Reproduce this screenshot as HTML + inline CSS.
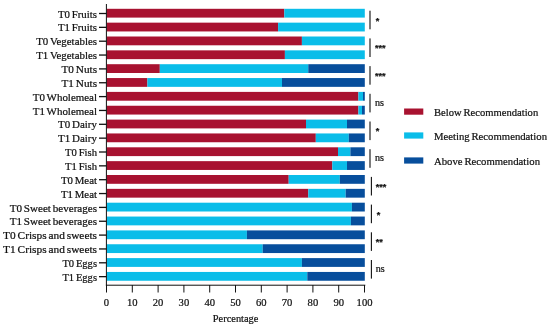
<!DOCTYPE html><html><head><meta charset="utf-8"><title>Chart</title><style>html,body{margin:0;padding:0;background:#fff}svg{display:block}text{font-family:"Liberation Serif",serif;fill:#111;stroke:#111;stroke-width:0.22px;word-spacing:-0.9px}</style></head><body>
<svg width="550" height="329" viewBox="0 0 550 329">
<rect width="550" height="329" fill="#fff"/>
<rect x="106.9" y="8.80" width="177.4" height="8.8" fill="#a81230"/>
<rect x="284.3" y="8.80" width="80.5" height="8.8" fill="#0abde9"/>
<rect x="99" y="12.85" width="7.5" height="1.3" fill="#111"/>
<text x="57.9" y="17.60" font-size="11" textLength="39.1" lengthAdjust="spacingAndGlyphs">T0 Fruits</text>
<rect x="106.9" y="22.65" width="171.2" height="8.8" fill="#a81230"/>
<rect x="278.1" y="22.65" width="86.7" height="8.8" fill="#0abde9"/>
<rect x="99" y="26.70" width="7.5" height="1.3" fill="#111"/>
<text x="57.9" y="31.45" font-size="11" textLength="39.1" lengthAdjust="spacingAndGlyphs">T1 Fruits</text>
<rect x="106.9" y="36.50" width="195.0" height="8.8" fill="#a81230"/>
<rect x="301.9" y="36.50" width="62.9" height="8.8" fill="#0abde9"/>
<rect x="99" y="40.55" width="7.5" height="1.3" fill="#111"/>
<text x="36.2" y="45.30" font-size="11" textLength="60.8" lengthAdjust="spacingAndGlyphs">T0 Vegetables</text>
<rect x="106.9" y="50.35" width="178.0" height="8.8" fill="#a81230"/>
<rect x="284.9" y="50.35" width="79.9" height="8.8" fill="#0abde9"/>
<rect x="99" y="54.40" width="7.5" height="1.3" fill="#111"/>
<text x="36.2" y="59.15" font-size="11" textLength="60.8" lengthAdjust="spacingAndGlyphs">T1 Vegetables</text>
<rect x="106.9" y="64.20" width="52.9" height="8.8" fill="#a81230"/>
<rect x="159.8" y="64.20" width="148.6" height="8.8" fill="#0abde9"/>
<rect x="308.3" y="64.20" width="56.5" height="8.8" fill="#074e9c"/>
<rect x="99" y="68.25" width="7.5" height="1.3" fill="#111"/>
<text x="61.5" y="73.00" font-size="11" textLength="35.5" lengthAdjust="spacingAndGlyphs">T0 Nuts</text>
<rect x="106.9" y="78.05" width="40.5" height="8.8" fill="#a81230"/>
<rect x="147.4" y="78.05" width="134.6" height="8.8" fill="#0abde9"/>
<rect x="282.0" y="78.05" width="82.8" height="8.8" fill="#074e9c"/>
<rect x="99" y="82.10" width="7.5" height="1.3" fill="#111"/>
<text x="61.5" y="86.85" font-size="11" textLength="35.5" lengthAdjust="spacingAndGlyphs">T1 Nuts</text>
<rect x="106.9" y="91.90" width="251.5" height="8.8" fill="#a81230"/>
<rect x="358.4" y="91.90" width="4.6" height="8.8" fill="#0abde9"/>
<rect x="363.0" y="91.90" width="1.8" height="8.8" fill="#074e9c"/>
<rect x="99" y="95.95" width="7.5" height="1.3" fill="#111"/>
<text x="32.8" y="100.70" font-size="11" textLength="64.2" lengthAdjust="spacingAndGlyphs">T0 Wholemeal</text>
<rect x="106.9" y="105.75" width="251.5" height="8.8" fill="#a81230"/>
<rect x="358.4" y="105.75" width="3.6" height="8.8" fill="#0abde9"/>
<rect x="362.0" y="105.75" width="2.8" height="8.8" fill="#074e9c"/>
<rect x="99" y="109.80" width="7.5" height="1.3" fill="#111"/>
<text x="32.8" y="114.55" font-size="11" textLength="64.2" lengthAdjust="spacingAndGlyphs">T1 Wholemeal</text>
<rect x="106.9" y="119.60" width="199.1" height="8.8" fill="#a81230"/>
<rect x="306.0" y="119.60" width="41.0" height="8.8" fill="#0abde9"/>
<rect x="347.0" y="119.60" width="17.8" height="8.8" fill="#074e9c"/>
<rect x="99" y="123.65" width="7.5" height="1.3" fill="#111"/>
<text x="58.1" y="128.40" font-size="11" textLength="38.9" lengthAdjust="spacingAndGlyphs">T0 Dairy</text>
<rect x="106.9" y="133.45" width="208.9" height="8.8" fill="#a81230"/>
<rect x="315.8" y="133.45" width="33.0" height="8.8" fill="#0abde9"/>
<rect x="348.8" y="133.45" width="16.0" height="8.8" fill="#074e9c"/>
<rect x="99" y="137.50" width="7.5" height="1.3" fill="#111"/>
<text x="58.1" y="142.25" font-size="11" textLength="38.9" lengthAdjust="spacingAndGlyphs">T1 Dairy</text>
<rect x="106.9" y="147.30" width="231.1" height="8.8" fill="#a81230"/>
<rect x="338.0" y="147.30" width="12.4" height="8.8" fill="#0abde9"/>
<rect x="350.4" y="147.30" width="14.4" height="8.8" fill="#074e9c"/>
<rect x="99" y="151.35" width="7.5" height="1.3" fill="#111"/>
<text x="65.0" y="156.10" font-size="11" textLength="32.0" lengthAdjust="spacingAndGlyphs">T0 Fish</text>
<rect x="106.9" y="161.15" width="225.4" height="8.8" fill="#a81230"/>
<rect x="332.3" y="161.15" width="14.7" height="8.8" fill="#0abde9"/>
<rect x="347.0" y="161.15" width="17.8" height="8.8" fill="#074e9c"/>
<rect x="99" y="165.20" width="7.5" height="1.3" fill="#111"/>
<text x="65.0" y="169.95" font-size="11" textLength="32.0" lengthAdjust="spacingAndGlyphs">T1 Fish</text>
<rect x="106.9" y="175.00" width="181.8" height="8.8" fill="#a81230"/>
<rect x="288.7" y="175.00" width="51.1" height="8.8" fill="#0abde9"/>
<rect x="339.8" y="175.00" width="25.0" height="8.8" fill="#074e9c"/>
<rect x="99" y="179.05" width="7.5" height="1.3" fill="#111"/>
<text x="60.9" y="183.80" font-size="11" textLength="36.1" lengthAdjust="spacingAndGlyphs">T0 Meat</text>
<rect x="106.9" y="188.85" width="201.4" height="8.8" fill="#a81230"/>
<rect x="308.3" y="188.85" width="37.4" height="8.8" fill="#0abde9"/>
<rect x="345.7" y="188.85" width="19.1" height="8.8" fill="#074e9c"/>
<rect x="99" y="192.90" width="7.5" height="1.3" fill="#111"/>
<text x="60.9" y="197.65" font-size="11" textLength="36.1" lengthAdjust="spacingAndGlyphs">T1 Meat</text>
<rect x="106.9" y="202.70" width="245.0" height="8.8" fill="#0abde9"/>
<rect x="351.9" y="202.70" width="12.9" height="8.8" fill="#074e9c"/>
<rect x="99" y="206.75" width="7.5" height="1.3" fill="#111"/>
<text x="9.7" y="211.50" font-size="11" textLength="87.3" lengthAdjust="spacingAndGlyphs">T0 Sweet beverages</text>
<rect x="106.9" y="216.55" width="244.0" height="8.8" fill="#0abde9"/>
<rect x="350.9" y="216.55" width="13.9" height="8.8" fill="#074e9c"/>
<rect x="99" y="220.60" width="7.5" height="1.3" fill="#111"/>
<text x="9.7" y="225.35" font-size="11" textLength="87.3" lengthAdjust="spacingAndGlyphs">T1 Sweet beverages</text>
<rect x="106.9" y="230.40" width="140.0" height="8.8" fill="#0abde9"/>
<rect x="246.9" y="230.40" width="117.9" height="8.8" fill="#074e9c"/>
<rect x="99" y="234.45" width="7.5" height="1.3" fill="#111"/>
<text x="3.1" y="239.20" font-size="11" textLength="93.9" lengthAdjust="spacingAndGlyphs">T0 Crisps and sweets</text>
<rect x="106.9" y="244.25" width="155.8" height="8.8" fill="#0abde9"/>
<rect x="262.7" y="244.25" width="102.1" height="8.8" fill="#074e9c"/>
<rect x="99" y="248.30" width="7.5" height="1.3" fill="#111"/>
<text x="3.1" y="253.05" font-size="11" textLength="93.9" lengthAdjust="spacingAndGlyphs">T1 Crisps and sweets</text>
<rect x="106.9" y="258.10" width="195.0" height="8.8" fill="#0abde9"/>
<rect x="301.9" y="258.10" width="62.9" height="8.8" fill="#074e9c"/>
<rect x="99" y="262.15" width="7.5" height="1.3" fill="#111"/>
<text x="62.4" y="266.90" font-size="11" textLength="34.6" lengthAdjust="spacingAndGlyphs">T0 Eggs</text>
<rect x="106.9" y="271.95" width="200.4" height="8.8" fill="#0abde9"/>
<rect x="307.3" y="271.95" width="57.5" height="8.8" fill="#074e9c"/>
<rect x="99" y="276.00" width="7.5" height="1.3" fill="#111"/>
<text x="62.4" y="280.75" font-size="11" textLength="34.6" lengthAdjust="spacingAndGlyphs">T1 Eggs</text>
<rect x="105.9" y="4" width="1" height="281.7" fill="#111"/>
<rect x="105.9" y="284.7" width="259.4" height="1" fill="#111"/>
<rect x="106.0" y="285" width="1" height="7.5" fill="#111"/>
<text x="103.8" y="306.3" font-size="10.8" textLength="5.3" lengthAdjust="spacingAndGlyphs">0</text>
<rect x="131.8" y="285" width="1" height="7.5" fill="#111"/>
<text x="127.0" y="306.3" font-size="10.8" textLength="10.6" lengthAdjust="spacingAndGlyphs">10</text>
<rect x="157.6" y="285" width="1" height="7.5" fill="#111"/>
<text x="152.8" y="306.3" font-size="10.8" textLength="10.6" lengthAdjust="spacingAndGlyphs">20</text>
<rect x="183.4" y="285" width="1" height="7.5" fill="#111"/>
<text x="178.6" y="306.3" font-size="10.8" textLength="10.6" lengthAdjust="spacingAndGlyphs">30</text>
<rect x="209.2" y="285" width="1" height="7.5" fill="#111"/>
<text x="204.4" y="306.3" font-size="10.8" textLength="10.6" lengthAdjust="spacingAndGlyphs">40</text>
<rect x="235.0" y="285" width="1" height="7.5" fill="#111"/>
<text x="230.2" y="306.3" font-size="10.8" textLength="10.6" lengthAdjust="spacingAndGlyphs">50</text>
<rect x="260.8" y="285" width="1" height="7.5" fill="#111"/>
<text x="256.0" y="306.3" font-size="10.8" textLength="10.6" lengthAdjust="spacingAndGlyphs">60</text>
<rect x="286.6" y="285" width="1" height="7.5" fill="#111"/>
<text x="281.8" y="306.3" font-size="10.8" textLength="10.6" lengthAdjust="spacingAndGlyphs">70</text>
<rect x="312.4" y="285" width="1" height="7.5" fill="#111"/>
<text x="307.6" y="306.3" font-size="10.8" textLength="10.6" lengthAdjust="spacingAndGlyphs">80</text>
<rect x="338.2" y="285" width="1" height="7.5" fill="#111"/>
<text x="333.4" y="306.3" font-size="10.8" textLength="10.6" lengthAdjust="spacingAndGlyphs">90</text>
<rect x="364.0" y="285" width="1" height="7.5" fill="#111"/>
<text x="356.6" y="306.3" font-size="10.8" textLength="15.9" lengthAdjust="spacingAndGlyphs">100</text>
<text x="212.8" y="322.3" font-size="11" textLength="45.6" lengthAdjust="spacingAndGlyphs">Percentage</text>
<rect x="369.45" y="10.7" width="1.1" height="18.6" fill="#111"/>
<text x="375.8" y="23.6" font-size="9.1" font-weight="bold" stroke-width="0.05" style="font-family:'Liberation Sans',sans-serif">*</text>
<rect x="369.45" y="38.4" width="1.1" height="18.6" fill="#111"/>
<text x="374.9" y="51.3" font-size="9.1" font-weight="bold" stroke-width="0.05" style="font-family:'Liberation Sans',sans-serif">***</text>
<rect x="369.45" y="66.1" width="1.1" height="18.6" fill="#111"/>
<text x="374.9" y="79.0" font-size="9.1" font-weight="bold" stroke-width="0.05" style="font-family:'Liberation Sans',sans-serif">***</text>
<rect x="369.45" y="93.8" width="1.1" height="18.6" fill="#111"/>
<text x="374.9" y="105.6" font-size="9.3" textLength="9" lengthAdjust="spacingAndGlyphs">ns</text>
<rect x="369.45" y="121.5" width="1.1" height="18.6" fill="#111"/>
<text x="375.8" y="134.4" font-size="9.1" font-weight="bold" stroke-width="0.05" style="font-family:'Liberation Sans',sans-serif">*</text>
<rect x="369.45" y="149.2" width="1.1" height="18.6" fill="#111"/>
<text x="374.9" y="161.0" font-size="9.3" textLength="9" lengthAdjust="spacingAndGlyphs">ns</text>
<rect x="370.85" y="176.9" width="1.1" height="18.6" fill="#111"/>
<text x="375.8" y="189.8" font-size="9.1" font-weight="bold" stroke-width="0.05" style="font-family:'Liberation Sans',sans-serif">***</text>
<rect x="370.85" y="204.6" width="1.1" height="18.6" fill="#111"/>
<text x="376.7" y="217.5" font-size="9.1" font-weight="bold" stroke-width="0.05" style="font-family:'Liberation Sans',sans-serif">*</text>
<rect x="370.85" y="232.3" width="1.1" height="18.6" fill="#111"/>
<text x="375.8" y="245.2" font-size="9.1" font-weight="bold" stroke-width="0.05" style="font-family:'Liberation Sans',sans-serif">**</text>
<rect x="370.85" y="260.0" width="1.1" height="18.6" fill="#111"/>
<text x="375.8" y="271.8" font-size="9.3" textLength="9" lengthAdjust="spacingAndGlyphs">ns</text>
<rect x="404.1" y="108.5" width="19.2" height="6.2" fill="#a81230"/>
<text x="434.0" y="116.3" font-size="11" textLength="104.2" lengthAdjust="spacingAndGlyphs">Below Recommendation</text>
<rect x="404.1" y="132.4" width="19.2" height="6.2" fill="#0abde9"/>
<text x="434.0" y="140.2" font-size="11" textLength="113.0" lengthAdjust="spacingAndGlyphs">Meeting Recommendation</text>
<rect x="404.1" y="157.4" width="19.2" height="6.2" fill="#074e9c"/>
<text x="434.0" y="165.2" font-size="11" textLength="106.0" lengthAdjust="spacingAndGlyphs">Above Recommendation</text>
</svg></body></html>
